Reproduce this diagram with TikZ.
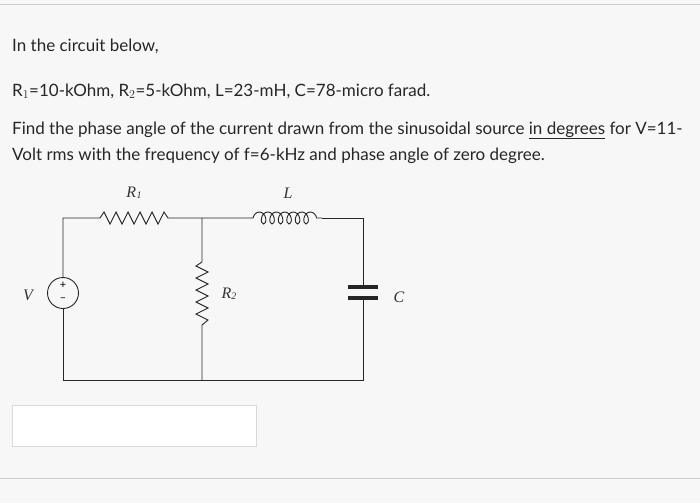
\documentclass[tikz,border=0pt]{standalone}
\usepackage{fontspec}
\setmainfont{Lato}
\newfontfamily\serifit{Liberation Serif}
\usetikzlibrary{decorations.pathmorphing}
\begin{document}
\begin{tikzpicture}[x=1pt,y=-1pt,
  wire/.style={line width=0.9pt,draw=black!85},
  txt/.style={anchor=base west,inner sep=0pt,font=\fontsize{17}{19}\selectfont,text=black!85},
  lab/.style={font=\serifit\itshape\fontsize{16}{18}\selectfont,text=black!80}]
\useasboundingbox (0,0) rectangle (700,503);
\fill[black!3] (0,0) rectangle (700,503);
\draw[black!20] (0,4) -- (700,4);
\draw[black!20] (0,478) -- (700,478);
\draw[black!15,fill=white] (12,405) rectangle (256,446);
\node[txt] (t1) at (12,52) {In the circuit below,};
\node[txt] (t2) at (12,96) {R$_1$=10-kOhm, R$_2$=5-kOhm, L=23-mH, C=78-micro farad.};
\node[txt] (t3) at (12,134) {Find the phase angle of the current drawn from the sinusoidal source \underline{in degrees} for V=11-};
\node[txt] (t4) at (12,160) {Volt rms with the frequency of f=6-kHz and phase angle of zero degree.};
\coordinate (tl) at (63,218); \coordinate (tm) at (202,218); \coordinate (tr) at (363,218);
\coordinate (bl) at (63,380); \coordinate (bm) at (202,380); \coordinate (br) at (363,380);
\node[circle,draw=black!85,line width=0.9pt,minimum size=31pt,inner sep=0pt] (V) at (63,293) {};
\node[font=\fontsize{11}{11}\selectfont] (vp) at (63,285) {+};
\node[font=\fontsize{11}{11}\selectfont] (vm) at (63,300) {--};
\draw[wire] (V.north) -- (tl) -- (100,218)
  -- (104,212) -- (110,224) -- (116,212) -- (122,224) -- (128,212) -- (134,224) -- (140,212) -- (146,224) -- (152,212) -- (158,224) -- (164,212) -- (168,218) -- (tm) -- (253,218);
\draw[wire,decoration={coil,aspect=0.7,segment length=8.5pt,amplitude=6pt},decorate] (253,218) -- (322,218);
\draw[wire] (322,218) -- (tr) -- (363,287);
\draw[wire] (363,298) -- (br) -- (bl) -- (V.south);
\draw[wire] (tm) -- (202,262) -- (196,266) -- (208,272) -- (196,278) -- (208,284) -- (196,290) -- (208,296) -- (196,302) -- (208,308) -- (196,314) -- (208,320) -- (202,325) -- (bm);
\fill[black!85] (348,285) rectangle (378,289);
\fill[black!85] (348,296) rectangle (378,300);
\node[lab] (R1) at (134,193) {R\kern0.5pt\raisebox{-1pt}{\fontsize{10}{10}\selectfont 1}};
\node[lab] (L) at (288,193) {L};
\node[lab] (R2) at (229,294) {R\raisebox{-1pt}{\fontsize{10}{10}\selectfont 2}};
\node[lab] (C) at (399,297) {C};
\node[lab] (Vl) at (28,295) {V};
\end{tikzpicture}
\end{document}
